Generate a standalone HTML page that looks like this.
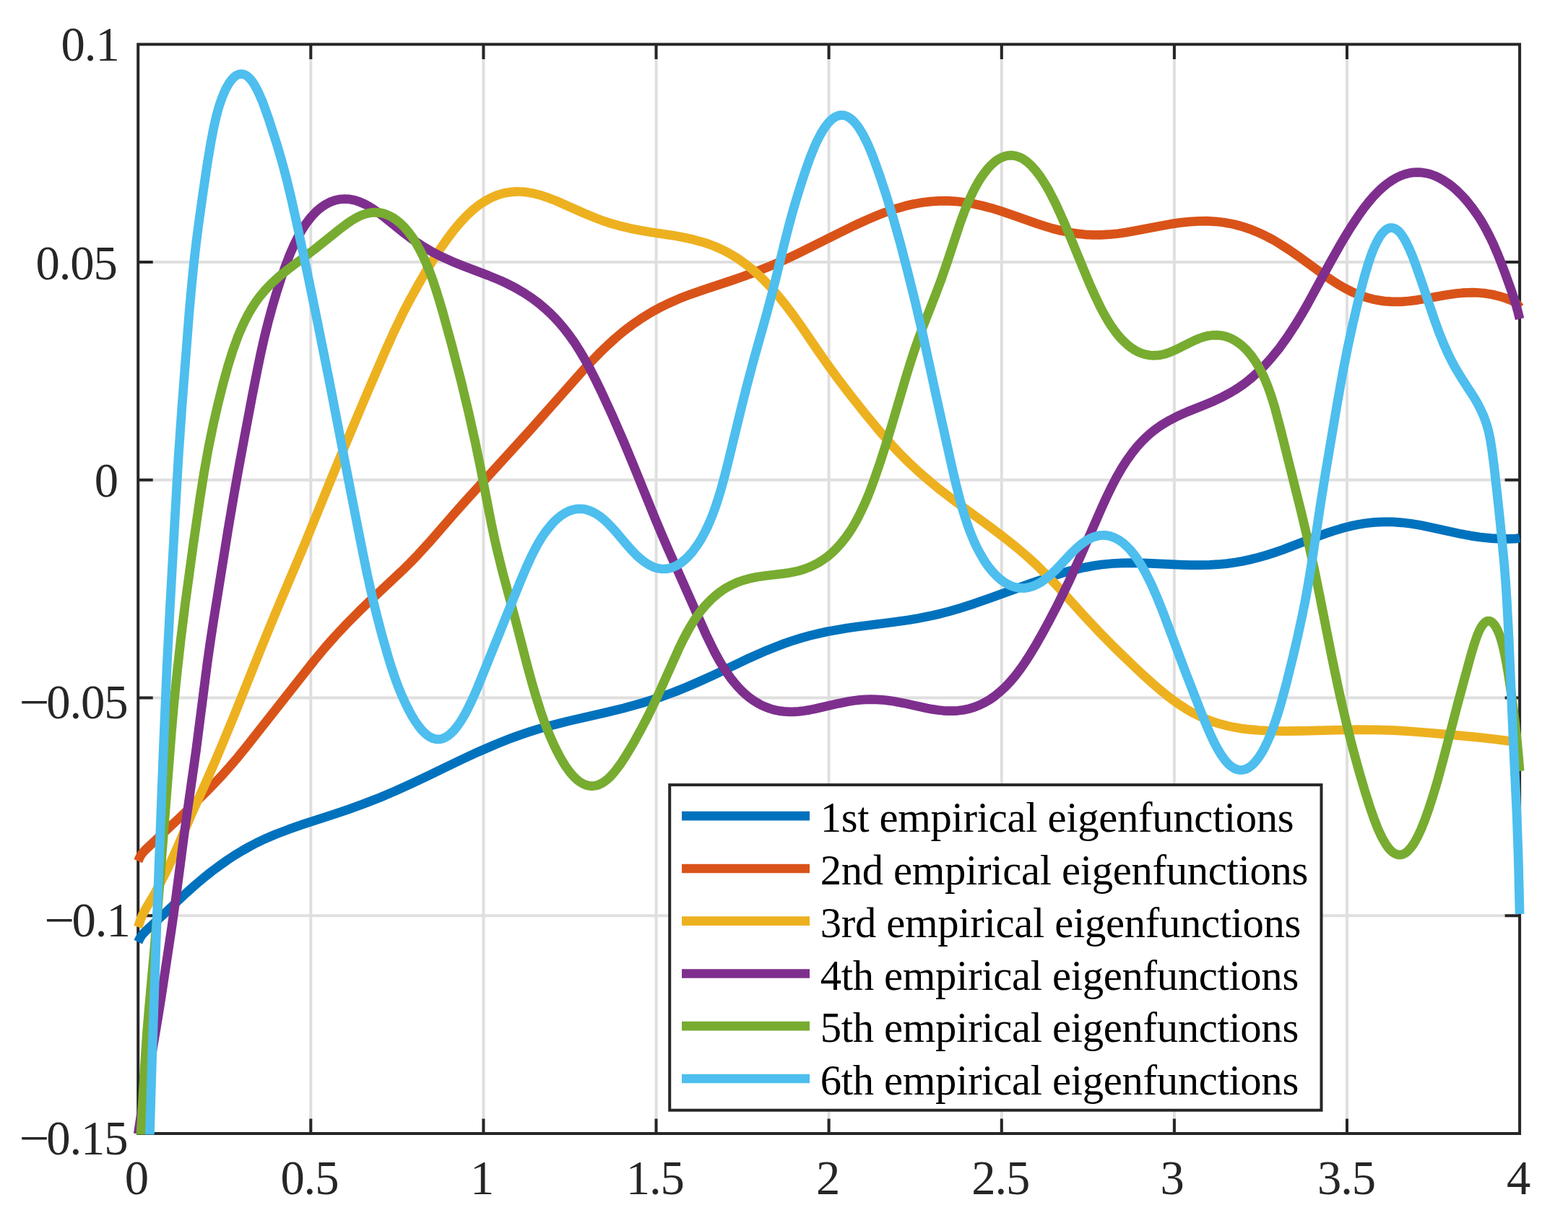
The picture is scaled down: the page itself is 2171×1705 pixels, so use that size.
<!DOCTYPE html>
<html lang="en"><head><meta charset="utf-8"><title>Empirical eigenfunctions</title>
<style>html,body{margin:0;padding:0;background:#fff}body{width:2171px;height:1705px;overflow:hidden}svg{display:block}</style></head>
<body>
<svg xmlns="http://www.w3.org/2000/svg" width="2171" height="1705" viewBox="0 0 2171 1705">
<defs><clipPath id="ax"><rect x="179.2" y="49.4" width="1936.9" height="1522.2"/></clipPath></defs>
<rect width="2171" height="1705" fill="#fff"/>
<path d="M430.3,61.4V1570.0M669.4,61.4V1570.0M908.5,61.4V1570.0M1147.6,61.4V1570.0M1386.8,61.4V1570.0M1625.9,61.4V1570.0M1865.0,61.4V1570.0M191.2,363.1H2104.1M191.2,664.8H2104.1M191.2,966.6H2104.1M191.2,1268.3H2104.1" fill="none" stroke="#dfdfdf" stroke-width="4.00"/>
<path d="M430.3,1570.0v-20.5M430.3,61.4v20.5M669.4,1570.0v-20.5M669.4,61.4v20.5M908.5,1570.0v-20.5M908.5,61.4v20.5M1147.6,1570.0v-20.5M1147.6,61.4v20.5M1386.8,1570.0v-20.5M1386.8,61.4v20.5M1625.9,1570.0v-20.5M1625.9,61.4v20.5M1865.0,1570.0v-20.5M1865.0,61.4v20.5M191.2,363.1h20.5M2104.1,363.1h-20.5M191.2,664.8h20.5M2104.1,664.8h-20.5M191.2,966.6h20.5M2104.1,966.6h-20.5M191.2,1268.3h20.5M2104.1,1268.3h-20.5" fill="none" stroke="#262626" stroke-width="4.00"/>
<rect x="191.2" y="61.4" width="1912.9" height="1508.6" fill="none" stroke="#262626" stroke-width="4.00"/>
<g clip-path="url(#ax)" fill="none" stroke-width="12.7" stroke-linejoin="round">
<path d="M191.2,1304.6 L193.4,1300.1 L195.7,1296.4 L198.5,1292.9 L202.1,1289.1 L218.9,1273.6 L257.1,1237.5 L270.6,1225.5 L283.5,1214.7 L293.7,1206.5 L304.1,1198.8 L314.4,1191.5 L324.6,1184.8 L334.8,1178.6 L344.9,1172.9 L355.1,1167.5 L365.7,1162.4 L382.0,1155.4 L400.0,1148.6 L418.6,1142.1 L461.8,1128.0 L482.6,1120.9 L505.2,1112.7 L526.7,1104.3 L547.4,1095.5 L569.4,1085.5 L590.1,1075.8 L637.4,1052.9 L661.7,1041.6 L685.9,1031.1 L708.3,1022.2 L720.8,1017.7 L733.4,1013.5 L746.1,1009.5 L759.2,1005.8 L785.4,999.1 L839.3,986.7 L863.5,980.8 L876.8,977.2 L889.4,973.6 L901.6,969.8 L913.7,965.8 L925.9,961.4 L938.1,956.7 L950.6,951.7 L963.4,946.2 L986.5,935.7 L1037.2,911.6 L1061.7,900.8 L1074.2,895.8 L1086.1,891.3 L1097.9,887.3 L1109.6,883.6 L1121.2,880.4 L1133.3,877.5 L1145.6,874.8 L1158.7,872.4 L1171.3,870.3 L1185.1,868.3 L1236.2,861.8 L1257.8,858.8 L1269.7,856.8 L1281.1,854.6 L1292.1,852.3 L1303.0,849.7 L1313.9,846.8 L1325.0,843.7 L1348.9,836.1 L1371.2,828.3 L1428.7,807.5 L1457.1,797.9 L1469.2,794.1 L1480.5,790.9 L1491.3,788.2 L1501.7,785.9 L1514.6,783.5 L1527.6,781.7 L1540.8,780.5 L1554.4,779.8 L1567.9,779.6 L1582.7,779.8 L1638.3,782.3 L1650.6,782.6 L1661.6,782.7 L1674.6,782.4 L1686.8,781.7 L1698.7,780.6 L1710.3,779.0 L1720.5,777.2 L1730.8,775.0 L1741.3,772.4 L1752.1,769.4 L1763.9,765.6 L1776.6,761.2 L1825.6,742.5 L1836.7,738.6 L1846.5,735.3 L1858.2,731.7 L1869.4,728.8 L1880.3,726.5 L1890.8,724.7 L1903.2,723.4 L1915.4,722.8 L1927.9,722.9 L1940.6,723.8 L1953.3,725.3 L1967.0,727.6 L1981.2,730.4 L2023.0,739.6 L2036.5,742.1 L2049.1,744.0 L2064.9,745.6 L2080.2,746.4 L2088.5,746.4 L2095.8,746.2 L2100.4,745.8 L2104.1,745.1" stroke="#0072BD"/>
<path d="M191.2,1192.6 L193.2,1188.0 L195.4,1184.1 L197.9,1180.7 L201.3,1177.0 L249.5,1131.8 L273.9,1108.3 L286.5,1095.8 L297.9,1084.0 L308.4,1072.8 L318.0,1062.0 L329.7,1048.3 L342.3,1032.7 L435.0,915.0 L449.5,897.5 L464.1,881.0 L480.2,863.9 L497.7,846.2 L515.3,829.3 L556.0,791.2 L567.9,779.5 L578.9,768.1 L595.4,749.9 L627.0,713.6 L643.3,695.2 L734.3,595.4 L808.0,512.2 L819.9,499.5 L830.8,488.3 L841.2,478.2 L851.4,469.0 L860.2,461.5 L869.0,454.6 L878.0,447.9 L887.1,441.7 L896.4,435.8 L905.8,430.3 L915.3,425.2 L925.2,420.4 L940.3,413.7 L956.6,407.4 L973.8,401.4 L1011.8,388.9 L1029.5,382.8 L1048.6,375.7 L1066.8,368.4 L1084.4,360.7 L1103.1,351.9 L1163.0,322.1 L1182.9,312.4 L1200.2,304.5 L1215.7,297.9 L1228.8,292.9 L1241.3,288.8 L1253.4,285.3 L1265.2,282.5 L1276.8,280.5 L1288.4,279.1 L1299.7,278.3 L1311.1,278.2 L1322.9,278.8 L1335.0,280.2 L1347.4,282.2 L1360.1,285.0 L1372.8,288.3 L1386.4,292.5 L1400.2,297.2 L1436.4,310.0 L1447.3,313.5 L1457.3,316.5 L1469.1,319.5 L1480.4,321.9 L1491.3,323.6 L1502.3,324.8 L1513.3,325.3 L1524.5,325.3 L1536.0,324.7 L1548.2,323.5 L1558.5,322.0 L1569.7,320.1 L1606.7,312.9 L1620.6,310.4 L1634.2,308.4 L1646.5,307.1 L1659.0,306.3 L1671.0,306.2 L1682.6,306.8 L1693.9,308.0 L1701.9,309.4 L1709.7,311.0 L1717.3,313.0 L1725.1,315.4 L1732.7,318.1 L1740.5,321.3 L1748.2,324.8 L1756.0,328.6 L1763.0,332.4 L1770.1,336.6 L1785.0,346.1 L1799.2,356.0 L1833.7,381.2 L1843.8,388.1 L1852.9,393.9 L1863.6,400.0 L1874.0,405.2 L1884.2,409.4 L1894.5,412.7 L1900.1,414.2 L1905.6,415.4 L1916.7,417.1 L1928.2,417.9 L1940.2,417.8 L1950.6,417.0 L1962.1,415.6 L1973.0,413.8 L2000.9,408.7 L2016.4,406.5 L2024.7,405.7 L2032.4,405.3 L2040.0,405.2 L2047.3,405.5 L2057.1,406.4 L2066.6,408.0 L2076.0,410.3 L2085.4,413.3 L2092.8,416.2 L2097.9,419.0 L2099.7,420.4 L2101.2,421.9 L2102.7,423.7 L2104.1,425.8" stroke="#D95319"/>
<path d="M191.2,1284.0 L194.4,1274.1 L196.2,1269.7 L198.2,1265.4 L202.0,1258.3 L213.0,1239.7 L219.9,1227.1 L228.6,1210.2 L237.0,1192.7 L246.1,1172.4 L265.4,1127.3 L286.7,1079.9 L297.3,1055.6 L309.0,1027.9 L326.5,985.4 L360.8,899.6 L373.2,869.1 L385.4,839.8 L421.2,755.1 L459.7,660.5 L480.6,610.2 L508.7,543.6 L532.8,487.7 L546.3,457.7 L558.6,432.3 L568.3,413.8 L578.5,395.4 L589.2,376.9 L600.0,359.4 L610.1,343.9 L619.6,330.3 L628.6,318.4 L637.3,308.1 L645.7,299.1 L654.0,291.3 L662.3,284.6 L670.8,278.9 L679.3,274.2 L683.6,272.3 L688.0,270.5 L692.5,269.0 L696.8,267.8 L701.2,266.9 L705.7,266.2 L710.8,265.6 L716.0,265.4 L721.3,265.5 L726.7,265.9 L732.3,266.7 L737.9,267.7 L743.7,269.1 L749.6,270.7 L759.3,274.0 L769.9,278.1 L808.2,295.1 L825.1,302.1 L833.9,305.4 L842.5,308.3 L851.1,310.9 L859.8,313.3 L872.9,316.4 L887.3,319.2 L900.6,321.5 L931.3,326.1 L946.0,328.7 L959.9,331.8 L972.7,335.3 L980.8,337.9 L988.8,340.9 L996.6,344.3 L1004.1,347.9 L1011.6,352.0 L1018.9,356.4 L1026.0,361.1 L1033.0,366.3 L1039.2,371.2 L1045.1,376.2 L1051.1,381.6 L1057.1,387.4 L1069.0,399.9 L1081.0,414.0 L1090.3,425.7 L1099.9,438.6 L1110.0,452.9 L1133.9,487.9 L1146.2,505.4 L1160.3,524.7 L1175.8,545.1 L1198.0,573.1 L1217.9,597.2 L1235.2,616.8 L1243.4,625.6 L1251.7,634.1 L1262.6,644.7 L1273.9,655.1 L1285.7,665.3 L1298.5,675.9 L1310.3,685.1 L1323.7,695.2 L1370.7,729.7 L1388.3,742.9 L1406.1,757.0 L1422.0,770.5 L1436.7,784.0 L1451.1,798.4 L1466.1,814.2 L1501.5,853.5 L1519.9,873.2 L1543.1,896.9 L1569.9,922.7 L1583.4,935.3 L1595.2,946.0 L1605.6,955.0 L1615.3,962.9 L1624.5,970.0 L1633.4,976.2 L1642.2,981.9 L1651.0,987.0 L1660.3,991.7 L1669.8,995.9 L1679.4,999.6 L1689.3,1002.7 L1699.6,1005.4 L1710.3,1007.6 L1721.5,1009.4 L1733.5,1010.7 L1743.0,1011.5 L1753.1,1012.0 L1776.1,1012.6 L1802.4,1012.3 L1858.1,1011.0 L1881.3,1010.6 L1906.4,1010.8 L1931.3,1011.7 L1952.8,1013.0 L1978.1,1015.0 L2011.6,1017.9 L2043.2,1020.9 L2068.9,1023.7 L2091.7,1026.6 L2099.1,1027.8 L2101.7,1028.5 L2104.1,1029.4" stroke="#EDB120"/>
<path d="M191.2,1570.5 L195.3,1543.8 L199.0,1521.2 L211.2,1453.8 L218.8,1408.7 L223.7,1377.9 L238.2,1281.5 L243.9,1240.7 L256.0,1148.2 L271.5,1039.5 L287.0,918.5 L290.6,893.1 L294.8,865.1 L315.7,734.1 L324.4,682.7 L330.2,650.1 L338.5,605.2 L349.1,548.9 L355.9,514.4 L361.0,489.6 L366.1,466.9 L371.3,446.0 L376.7,426.1 L382.6,406.1 L388.9,386.5 L395.3,368.2 L401.4,352.3 L407.1,339.4 L412.8,327.8 L418.5,317.7 L424.5,308.6 L430.8,300.5 L437.2,293.7 L440.5,290.6 L444.0,287.8 L447.4,285.3 L450.9,283.1 L457.2,279.8 L463.9,277.4 L470.5,276.0 L477.2,275.5 L483.9,275.9 L490.9,277.3 L497.9,279.6 L505.3,282.8 L509.8,285.3 L514.5,288.1 L524.8,295.2 L534.3,302.5 L558.2,321.9 L571.9,332.2 L584.2,340.4 L596.6,347.8 L610.9,355.3 L626.4,362.3 L641.4,368.3 L675.9,381.5 L692.9,388.5 L701.0,392.3 L708.8,396.2 L716.2,400.2 L723.1,404.2 L729.9,408.5 L736.6,413.0 L743.1,417.8 L749.3,422.8 L755.5,428.1 L761.4,433.5 L767.1,439.2 L772.6,445.1 L780.3,454.1 L787.6,463.5 L794.9,473.7 L802.0,484.8 L809.1,496.7 L816.4,510.0 L824.0,524.8 L832.2,541.6 L847.4,574.7 L863.7,612.1 L877.4,645.1 L907.5,719.4 L916.6,741.0 L925.8,762.3 L977.2,877.9 L987.4,899.0 L992.2,908.2 L996.7,916.3 L1001.6,924.3 L1006.5,931.8 L1011.3,938.7 L1016.3,945.0 L1021.3,950.9 L1026.6,956.5 L1031.8,961.3 L1037.2,965.8 L1042.7,969.8 L1048.4,973.4 L1054.3,976.7 L1060.2,979.3 L1066.2,981.5 L1072.4,983.3 L1078.7,984.6 L1085.4,985.4 L1092.2,985.8 L1098.9,985.8 L1106.0,985.4 L1113.3,984.5 L1120.7,983.4 L1128.5,981.8 L1160.5,974.4 L1175.0,971.5 L1183.3,970.3 L1191.0,969.4 L1198.7,968.9 L1206.1,968.7 L1213.5,968.8 L1221.2,969.3 L1228.9,970.1 L1236.9,971.2 L1251.4,973.9 L1283.5,981.0 L1291.4,982.4 L1298.7,983.5 L1306.0,984.3 L1313.1,984.7 L1319.9,984.7 L1326.3,984.3 L1334.3,983.3 L1341.8,981.6 L1349.2,979.4 L1356.7,976.4 L1363.9,972.8 L1370.8,968.7 L1377.9,963.7 L1384.6,958.2 L1391.7,951.6 L1398.8,944.1 L1405.8,935.8 L1412.8,926.6 L1419.8,916.5 L1427.1,905.1 L1434.7,892.4 L1443.1,877.6 L1452.9,859.5 L1463.0,840.1 L1472.2,821.6 L1480.9,803.7 L1496.1,770.3 L1525.7,702.5 L1532.3,688.1 L1538.3,675.7 L1545.7,661.4 L1553.1,648.5 L1560.5,636.9 L1568.1,626.5 L1572.7,620.7 L1577.3,615.3 L1582.2,610.2 L1587.0,605.4 L1592.0,600.9 L1597.2,596.6 L1602.6,592.6 L1608.2,588.7 L1619.0,582.3 L1631.0,576.1 L1643.7,570.5 L1669.6,560.1 L1680.9,555.3 L1692.8,549.7 L1703.6,543.9 L1709.9,540.1 L1715.9,536.2 L1721.7,532.2 L1727.6,527.7 L1733.3,523.0 L1738.8,518.1 L1744.5,512.8 L1749.9,507.3 L1755.4,501.4 L1760.9,495.1 L1771.6,481.9 L1782.3,467.0 L1793.1,450.6 L1801.5,436.8 L1810.3,421.5 L1841.4,364.4 L1855.6,339.2 L1862.8,327.0 L1869.7,315.7 L1876.2,305.7 L1882.3,296.7 L1888.9,287.6 L1895.3,279.5 L1901.6,272.2 L1908.1,265.4 L1914.4,259.5 L1920.7,254.4 L1927.0,250.0 L1933.1,246.4 L1938.9,243.6 L1944.9,241.4 L1950.8,239.8 L1956.9,238.9 L1962.6,238.6 L1968.7,238.9 L1974.8,239.9 L1980.7,241.4 L1986.7,243.6 L1992.9,246.5 L1999.0,250.0 L2005.2,254.1 L2011.3,258.8 L2017.3,264.1 L2023.3,270.0 L2029.2,276.4 L2034.5,282.8 L2039.8,289.7 L2044.8,296.8 L2049.8,304.3 L2054.5,312.3 L2059.0,320.5 L2063.4,329.1 L2067.8,338.4 L2072.9,350.2 L2078.3,363.7 L2084.2,379.3 L2092.4,402.0 L2096.1,413.0 L2099.2,422.8 L2101.7,432.2 L2104.1,441.8" stroke="#7E2F8E"/>
<path d="M193.4,1600.3 L199.7,1486.2 L203.4,1431.4 L206.2,1397.5 L213.6,1316.2 L217.0,1275.8 L237.4,1014.0 L240.8,974.9 L244.6,937.1 L250.4,884.7 L256.6,834.9 L267.5,754.9 L277.2,688.0 L282.9,652.3 L288.6,620.5 L294.9,589.7 L301.9,559.1 L308.9,531.2 L315.8,506.4 L322.5,485.2 L329.2,466.7 L332.7,458.2 L336.2,450.3 L339.8,442.8 L343.6,435.4 L347.5,428.6 L351.4,422.3 L355.6,416.2 L360.0,410.3 L367.9,400.9 L376.4,392.1 L386.1,383.3 L397.9,373.7 L436.2,344.8 L447.8,335.6 L469.9,317.8 L480.7,309.6 L487.9,304.8 L494.4,301.1 L500.7,298.1 L506.9,296.0 L513.3,294.6 L519.3,294.2 L525.4,294.6 L531.4,295.8 L537.6,298.1 L543.4,301.1 L549.1,305.0 L554.8,309.7 L560.4,315.3 L566.0,321.9 L571.2,329.0 L576.3,337.1 L581.2,345.8 L585.9,355.2 L590.5,365.5 L595.1,376.9 L599.3,388.3 L603.6,401.2 L608.0,415.3 L612.8,431.6 L625.5,477.9 L638.5,528.2 L649.0,571.9 L658.0,612.3 L665.3,647.8 L680.0,723.6 L684.5,745.3 L689.0,764.9 L696.2,793.7 L713.5,858.1 L730.8,924.9 L736.2,944.6 L741.3,962.2 L749.1,986.8 L753.0,997.9 L757.2,1008.9 L761.5,1019.4 L765.7,1029.0 L770.0,1038.0 L774.4,1046.6 L778.7,1054.2 L782.8,1060.8 L787.1,1066.9 L791.1,1072.0 L795.2,1076.5 L799.4,1080.4 L803.6,1083.5 L807.8,1085.8 L811.0,1087.2 L814.0,1088.0 L817.4,1088.6 L820.4,1088.6 L823.5,1088.3 L826.5,1087.7 L829.8,1086.5 L832.9,1085.0 L835.9,1083.2 L839.1,1080.9 L842.4,1078.1 L845.5,1075.1 L848.8,1071.5 L852.1,1067.5 L859.2,1058.1 L867.5,1045.3 L876.9,1029.5 L886.8,1011.6 L896.7,992.7 L904.4,977.0 L912.2,960.4 L939.6,899.1 L945.9,886.1 L952.0,874.6 L955.9,867.7 L960.0,861.0 L964.1,854.9 L968.1,849.2 L972.4,843.7 L976.6,838.7 L981.1,833.9 L985.4,829.6 L990.3,825.2 L995.0,821.4 L1000.3,817.5 L1005.5,814.2 L1010.8,811.3 L1016.3,808.6 L1021.9,806.2 L1027.7,804.1 L1037.7,801.3 L1048.8,799.0 L1059.2,797.5 L1085.6,794.4 L1093.0,793.3 L1099.4,792.1 L1106.6,790.3 L1113.3,788.3 L1119.8,785.9 L1125.8,783.2 L1132.8,779.6 L1139.4,775.4 L1145.8,770.8 L1152.1,765.5 L1158.0,759.7 L1163.9,753.3 L1169.7,746.1 L1175.0,738.7 L1179.8,731.4 L1184.2,723.9 L1188.6,715.8 L1193.0,706.8 L1197.2,697.7 L1201.5,687.7 L1205.8,676.7 L1210.2,664.8 L1218.0,642.2 L1226.7,615.2 L1235.6,586.0 L1254.8,520.7 L1260.5,502.3 L1265.9,485.8 L1271.1,470.9 L1276.8,455.4 L1296.0,406.2 L1303.5,386.2 L1311.5,363.1 L1329.3,309.3 L1335.0,293.7 L1340.4,280.4 L1347.2,265.7 L1350.6,259.1 L1354.2,252.7 L1357.9,246.7 L1361.6,241.3 L1365.3,236.5 L1368.9,232.1 L1372.5,228.4 L1376.4,224.8 L1380.2,221.9 L1383.9,219.6 L1387.8,217.7 L1391.5,216.4 L1395.4,215.5 L1399.3,215.2 L1401.9,215.3 L1404.9,215.7 L1407.9,216.4 L1410.8,217.4 L1413.6,218.6 L1416.6,220.3 L1419.5,222.2 L1422.7,224.6 L1428.4,229.9 L1434.2,236.4 L1440.0,244.1 L1446.0,253.2 L1451.1,261.8 L1456.4,271.8 L1462.1,283.2 L1467.9,295.8 L1479.4,322.3 L1500.6,373.9 L1508.5,392.8 L1516.7,411.1 L1524.1,426.4 L1528.6,434.9 L1533.2,442.9 L1537.8,450.3 L1542.3,456.7 L1546.7,462.6 L1551.5,468.3 L1556.1,473.0 L1560.9,477.4 L1565.7,481.2 L1570.8,484.6 L1575.8,487.3 L1581.0,489.5 L1586.4,491.1 L1591.6,492.0 L1596.8,492.4 L1602.4,492.2 L1606.8,491.6 L1611.5,490.6 L1616.5,489.1 L1621.4,487.3 L1630.5,483.2 L1653.1,471.8 L1659.6,469.1 L1665.7,466.9 L1672.5,465.2 L1679.4,464.3 L1685.9,464.2 L1692.0,464.9 L1695.4,465.6 L1699.2,466.7 L1702.9,468.1 L1706.4,469.8 L1709.8,471.7 L1713.2,473.8 L1716.7,476.4 L1720.0,479.1 L1723.3,482.1 L1726.6,485.5 L1732.8,492.9 L1738.5,501.1 L1744.1,510.5 L1749.8,521.8 L1755.0,534.2 L1759.9,547.8 L1764.8,563.6 L1772.1,591.0 L1802.1,711.2 L1811.3,750.3 L1820.3,791.2 L1827.3,825.4 L1843.7,908.8 L1853.4,954.9 L1858.8,978.8 L1864.2,1001.7 L1869.7,1023.7 L1875.3,1045.2 L1882.4,1070.8 L1889.7,1095.5 L1896.4,1116.7 L1902.4,1134.1 L1907.8,1147.9 L1912.9,1159.0 L1917.8,1167.7 L1920.2,1171.4 L1922.8,1174.9 L1925.4,1177.8 L1928.4,1180.4 L1930.9,1182.0 L1933.7,1183.3 L1936.7,1183.9 L1939.3,1183.9 L1942.3,1183.2 L1945.0,1181.9 L1947.9,1179.9 L1950.5,1177.5 L1953.3,1174.2 L1956.2,1170.4 L1959.0,1166.0 L1961.9,1160.6 L1964.8,1154.7 L1967.7,1148.4 L1972.9,1135.4 L1978.4,1119.8 L1984.2,1101.9 L1990.2,1081.9 L1998.3,1052.0 L2018.4,974.3 L2035.9,909.9 L2040.7,893.6 L2044.9,881.2 L2047.1,875.9 L2049.1,871.6 L2051.3,867.8 L2053.3,864.9 L2055.3,862.7 L2057.4,861.1 L2058.9,860.3 L2060.6,860.0 L2062.4,860.1 L2064.0,860.7 L2065.8,861.8 L2067.4,863.3 L2069.1,865.3 L2070.6,867.5 L2073.9,873.7 L2076.8,880.9 L2079.5,889.7 L2082.1,900.3 L2085.1,914.8 L2088.2,932.4 L2091.3,952.7 L2094.5,975.6 L2097.5,999.4 L2099.9,1021.1 L2102.1,1043.6 L2104.1,1068.0" stroke="#77AC30"/>
<path d="M206.5,1600.3 L211.0,1452.1 L216.2,1301.5 L226.1,1041.4 L231.3,919.8 L235.1,846.1 L244.3,680.5 L247.3,629.7 L252.0,562.1 L262.0,432.3 L265.0,399.2 L268.0,368.4 L271.2,340.2 L274.6,313.2 L280.9,268.2 L287.0,226.9 L291.9,197.6 L296.0,176.2 L299.7,160.3 L303.4,146.9 L307.6,134.9 L309.9,129.3 L312.1,124.3 L314.4,120.0 L316.8,115.9 L319.2,112.4 L321.9,109.1 L324.5,106.5 L326.9,104.7 L329.6,103.3 L331.9,102.7 L333.7,102.5 L335.5,102.6 L337.3,103.0 L339.0,103.6 L340.6,104.4 L342.6,105.8 L345.7,108.6 L349.2,112.8 L352.5,117.9 L356.0,124.3 L359.4,131.4 L363.4,140.8 L367.6,152.2 L372.4,165.9 L378.0,183.2 L383.5,200.5 L388.3,216.7 L392.7,232.5 L396.9,248.3 L403.4,275.4 L411.0,309.6 L425.6,378.3 L439.3,444.7 L455.6,526.0 L489.1,698.9 L501.2,760.1 L508.5,795.7 L514.7,823.4 L521.1,849.9 L528.9,879.8 L536.5,906.6 L540.7,920.5 L544.7,932.5 L548.7,944.0 L552.6,954.1 L556.8,964.2 L561.3,974.1 L565.9,983.3 L570.2,991.3 L574.6,998.5 L579.1,1005.0 L583.2,1010.3 L587.3,1014.7 L591.4,1018.2 L595.5,1020.9 L599.9,1022.9 L604.0,1023.8 L606.4,1023.9 L608.9,1023.8 L611.2,1023.4 L613.6,1022.7 L615.8,1021.7 L618.4,1020.3 L621.0,1018.6 L623.3,1016.7 L628.1,1012.1 L633.1,1006.0 L637.9,999.0 L643.2,990.2 L647.4,982.2 L652.0,972.9 L656.5,963.0 L661.5,951.4 L720.2,806.0 L728.2,787.0 L735.2,771.6 L740.1,761.9 L745.0,752.8 L750.0,744.5 L755.1,737.0 L760.3,730.3 L765.4,724.3 L770.6,719.2 L776.2,714.6 L781.7,710.9 L787.6,707.9 L793.4,706.0 L796.3,705.3 L799.3,704.9 L804.8,704.8 L807.8,705.1 L810.8,705.6 L816.6,707.4 L822.6,710.1 L827.3,712.9 L832.2,716.4 L837.3,720.7 L842.6,725.6 L852.1,735.8 L868.1,754.8 L874.1,761.6 L880.4,768.2 L886.2,773.5 L892.8,778.7 L899.0,782.6 L905.0,785.4 L908.5,786.6 L911.4,787.3 L915.0,787.8 L918.6,788.0 L922.2,787.9 L925.8,787.3 L929.3,786.4 L932.7,785.2 L936.0,783.7 L939.7,781.6 L943.3,779.2 L946.6,776.6 L950.2,773.4 L953.6,770.0 L956.9,766.4 L960.3,762.2 L966.6,753.3 L971.1,746.1 L975.4,738.1 L979.7,729.4 L983.6,720.5 L987.4,711.0 L991.1,700.7 L994.8,689.2 L998.5,677.0 L1002.8,661.3 L1007.3,643.7 L1025.4,569.0 L1034.5,532.6 L1043.7,498.0 L1060.2,439.2 L1067.1,413.5 L1074.0,386.5 L1086.6,334.7 L1092.0,313.6 L1096.9,295.5 L1102.3,276.9 L1108.2,257.8 L1114.0,240.0 L1121.2,219.4 L1127.8,203.1 L1131.0,196.0 L1134.3,189.5 L1137.5,183.6 L1140.6,178.5 L1143.8,174.0 L1147.2,169.8 L1150.1,166.7 L1153.4,164.0 L1156.4,162.0 L1159.7,160.5 L1163.2,159.7 L1166.3,159.5 L1169.8,160.1 L1173.2,161.4 L1176.9,163.6 L1180.6,166.7 L1184.3,170.6 L1187.7,174.9 L1191.0,180.0 L1194.7,186.2 L1198.1,192.7 L1201.7,200.3 L1205.3,208.7 L1209.1,218.2 L1217.5,241.6 L1227.0,270.3 L1236.2,300.4 L1245.6,333.6 L1256.3,374.6 L1267.0,417.5 L1278.0,464.6 L1296.5,549.8 L1317.2,643.2 L1323.5,670.3 L1328.9,691.4 L1332.6,704.8 L1336.3,717.0 L1340.2,728.5 L1344.0,738.7 L1348.1,748.7 L1352.5,758.1 L1357.0,766.6 L1361.6,774.5 L1364.8,779.6 L1368.3,784.5 L1371.7,788.8 L1375.2,792.9 L1379.0,796.9 L1382.5,800.2 L1386.2,803.3 L1390.1,806.2 L1393.7,808.4 L1397.5,810.4 L1401.4,812.0 L1405.4,813.3 L1409.6,814.1 L1413.2,814.5 L1416.8,814.6 L1420.4,814.3 L1423.4,813.8 L1426.9,812.9 L1430.4,811.8 L1433.7,810.4 L1437.0,808.8 L1440.7,806.7 L1447.6,801.9 L1453.7,796.9 L1460.3,790.7 L1466.7,784.2 L1482.8,766.9 L1491.5,758.5 L1496.0,754.6 L1500.9,750.9 L1505.4,747.9 L1510.3,745.4 L1515.9,743.2 L1521.8,741.8 L1527.2,741.3 L1532.6,741.7 L1537.9,742.8 L1543.6,745.0 L1548.9,747.8 L1554.4,751.6 L1559.8,756.4 L1564.9,761.6 L1569.9,767.7 L1574.9,774.6 L1579.8,782.2 L1584.6,790.6 L1589.7,800.2 L1594.7,810.6 L1602.2,827.8 L1610.3,848.0 L1641.3,930.8 L1663.7,988.3 L1670.4,1004.5 L1675.9,1017.3 L1680.8,1027.7 L1685.6,1036.8 L1690.9,1045.6 L1696.2,1053.0 L1699.0,1056.2 L1701.5,1058.8 L1704.3,1061.1 L1706.7,1062.9 L1709.4,1064.4 L1711.6,1065.4 L1714.5,1066.2 L1716.9,1066.5 L1719.3,1066.5 L1722.3,1066.0 L1724.6,1065.3 L1727.4,1064.1 L1731.4,1061.5 L1735.5,1057.9 L1739.6,1053.3 L1743.5,1048.0 L1747.4,1041.9 L1751.4,1034.4 L1755.1,1026.8 L1758.9,1017.9 L1762.4,1008.8 L1766.0,998.6 L1769.8,987.0 L1773.4,974.9 L1781.5,945.1 L1790.6,908.1 L1796.9,880.9 L1802.4,855.5 L1806.9,833.5 L1810.9,811.5 L1816.6,776.9 L1827.6,703.2 L1834.9,657.2 L1851.1,561.1 L1859.3,515.2 L1865.7,482.6 L1872.9,449.4 L1881.7,411.7 L1889.0,383.6 L1894.7,364.4 L1897.4,356.4 L1900.1,349.0 L1902.9,342.3 L1905.7,336.3 L1908.6,330.9 L1911.1,326.8 L1914.0,322.9 L1916.9,319.9 L1919.7,317.6 L1922.4,316.2 L1925.3,315.5 L1927.8,315.5 L1930.7,316.3 L1933.3,317.7 L1935.3,319.1 L1937.5,321.2 L1939.8,324.0 L1941.9,326.9 L1946.3,334.2 L1951.0,344.0 L1955.5,354.6 L1960.6,368.2 L1966.8,385.9 L1986.6,444.4 L1992.8,461.4 L1999.0,476.6 L2002.9,485.5 L2006.7,493.7 L2010.9,501.8 L2014.9,509.2 L2023.0,522.7 L2041.1,550.7 L2045.6,558.5 L2049.8,566.6 L2054.3,576.5 L2058.2,587.3 L2061.0,597.2 L2063.5,609.1 L2065.9,624.6 L2068.7,646.2 L2072.7,681.7 L2077.1,723.2 L2082.7,781.1 L2084.6,805.2 L2086.3,831.2 L2089.2,885.6 L2095.2,1025.3 L2100.2,1129.9 L2102.3,1191.0 L2104.1,1266.0" stroke="#4DBEEE"/>
</g>
<g font-family="'Liberation Serif', 'DejaVu Serif', serif" font-size="66.67" letter-spacing="-1.1" fill="#262626">
<text x="172.65" y="1654.4">0</text>
<text x="388.40" y="1654.4">0.5</text>
<text x="650.90" y="1654.4">1</text>
<text x="866.70" y="1654.4">1.5</text>
<text x="1130.00" y="1654.4">2</text>
<text x="1345.30" y="1654.4">2.5</text>
<text x="1606.55" y="1654.4">3</text>
<text x="1824.00" y="1654.4">3.5</text>
<text x="2086.00" y="1654.4">4</text>
<text x="84.60" y="84.4">0.1</text>
<text x="49.50" y="386.6">0.05</text>
<text x="130.80" y="687.8">0</text>
<text y="995.4"><tspan x="26.70" textLength="40.75" lengthAdjust="spacingAndGlyphs">−</tspan><tspan x="64.30">0.05</tspan></text>
<text y="1297.4"><tspan x="61.60" textLength="40.75" lengthAdjust="spacingAndGlyphs">−</tspan><tspan x="99.60">0.1</tspan></text>
<text y="1599.2"><tspan x="26.70" textLength="40.75" lengthAdjust="spacingAndGlyphs">−</tspan><tspan x="64.30">0.15</tspan></text>
</g>
<rect x="927.2" y="1087.1" width="902.3" height="450.6" fill="#fff" stroke="#262626" stroke-width="4.00"/>
<g font-family="'Liberation Serif', 'DejaVu Serif', serif" font-size="58.70" letter-spacing="-0.33" fill="#000">
<path d="M944,1130.2H1121" stroke="#0072BD" stroke-width="12.7" fill="none"/>
<text x="1135.7" y="1152.2">1st empirical eigenfunctions</text>
<path d="M944,1203.0H1121" stroke="#D95319" stroke-width="12.7" fill="none"/>
<text x="1135.7" y="1225.0">2nd empirical eigenfunctions</text>
<path d="M944,1275.7H1121" stroke="#EDB120" stroke-width="12.7" fill="none"/>
<text x="1135.7" y="1297.7">3rd empirical eigenfunctions</text>
<path d="M944,1348.5H1121" stroke="#7E2F8E" stroke-width="12.7" fill="none"/>
<text x="1135.7" y="1370.5">4th empirical eigenfunctions</text>
<path d="M944,1421.2H1121" stroke="#77AC30" stroke-width="12.7" fill="none"/>
<text x="1135.7" y="1443.2">5th empirical eigenfunctions</text>
<path d="M944,1494.0H1121" stroke="#4DBEEE" stroke-width="12.7" fill="none"/>
<text x="1135.7" y="1516.0">6th empirical eigenfunctions</text>
</g>
</svg>
</body></html>
